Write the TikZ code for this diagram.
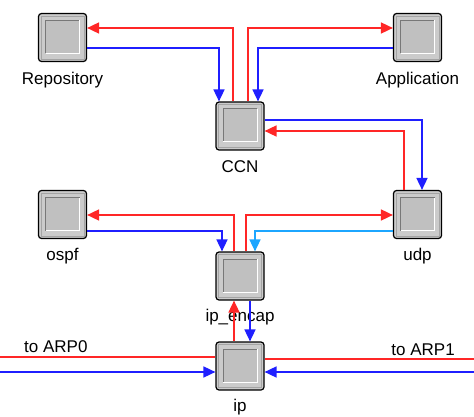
\documentclass[tikz,border=0pt]{standalone}
\usepackage{fontspec}
\setmainfont{Liberation Sans}
\usepackage{tikz}
\usetikzlibrary{arrows.meta}
\definecolor{modfill}{HTML}{CBCBCB}
\definecolor{modrim}{HTML}{A4A4A4}
\definecolor{modcore}{HTML}{C0C0C0}
\definecolor{moddark}{HTML}{787878}
\definecolor{sigred}{HTML}{FF2626}
\definecolor{sigblue}{HTML}{1F1FFF}
\definecolor{sigcyan}{HTML}{1CA6FF}
\tikzstyle{Module}=[rectangle, rounded corners=3pt, minimum size=48pt, inner sep=0pt, draw=black, line width=1.2pt, fill=modfill,
  path picture={
    \draw[sharp corners, line width=0.8pt, modrim] ([shift={(2.5pt,-2.5pt)}]path picture bounding box.north west) rectangle ([shift={(-2.5pt,2.5pt)}]path picture bounding box.south east);
    \fill[sharp corners, modcore] ([shift={(7pt,-7pt)}]path picture bounding box.north west) rectangle ([shift={(-7pt,8pt)}]path picture bounding box.south east);
    \draw[sharp corners, line width=1pt, moddark] ([shift={(7pt,8pt)}]path picture bounding box.south west) |- ([shift={(-7pt,-7pt)}]path picture bounding box.north east);
    \draw[sharp corners, line width=1pt, white] ([shift={(7pt,8pt)}]path picture bounding box.south west) -| ([shift={(-7pt,-7pt)}]path picture bounding box.north east);
  }]
\tikzstyle{Tag}=[anchor=base, inner sep=0pt, font=\fontsize{17}{20}\selectfont]
\tikzstyle{Red}=[draw=sigred, line width=1.7pt]
\tikzstyle{Blue}=[draw=sigblue, line width=1.7pt]
\tikzstyle{Cyan}=[draw=sigcyan, line width=1.7pt]
\tikzstyle{Tip}=[-{Triangle[length=12pt,width=11pt]}]

\begin{document}
\begin{tikzpicture}[x=1pt, y=-1pt]
    \useasboundingbox (0,0) rectangle (474,417);
    \path
    (62.5,37.5) node[Module] (repo) {}
    (417.5,37.5) node[Module] (app) {}
    (240,126) node[Module] (ccn) {}
    (62.5,214.5) node[Module] (ospf) {}
    (417.5,214.5) node[Module] (udp) {}
    (240,276) node[Module] (encap) {}
    (240,366) node[Module] (ip) {}
    coordinate (arpzeroR) at (0,357)
    coordinate (arpzeroB) at (0,372)
    coordinate (arponeR) at (474,359)
    coordinate (arponeB) at (474,372);

    \node[Tag] (repolabel) at ([yshift=-22pt]repo.south) {Repository};
    \node[Tag] (applabel) at ([yshift=-22pt]app.south) {Application};
    \node[Tag] (ccnlabel) at ([yshift=-22pt]ccn.south) {CCN};
    \node[Tag] (ospflabel) at ([yshift=-21pt]ospf.south) {ospf};
    \node[Tag] (udplabel) at ([yshift=-21pt]udp.south) {udp};
    \node[Tag] (encaplabel) at ([yshift=-21pt]encap.south) {ip\_encap};
    \node[Tag] (iplabel) at ([yshift=-21pt]ip.south) {ip};
    \node[Tag, anchor=base west] (arpzero) at (24,352) {to ARP0};
    \node[Tag, anchor=base east] (arpone) at (455,355) {to ARP1};

    % CCN <-> Repository / Application
    \draw[Red, Tip] ([xshift=-7pt]ccn.north) |- ([yshift=9.5pt]repo.east);
    \draw[Blue, Tip] ([yshift=-10.5pt]repo.east) -| ([xshift=-21pt]ccn.north);
    \draw[Red, Tip] ([xshift=8pt]ccn.north) |- ([yshift=9.5pt]app.west);
    \draw[Blue, Tip] ([yshift=-10.5pt]app.west) -| ([xshift=18pt]ccn.north);
    % CCN <-> udp
    \draw[Blue, Tip] ([yshift=6pt]ccn.east) -| ([xshift=4.5pt]udp.north);
    \draw[Red, Tip] ([xshift=-13.5pt]udp.north) |- ([yshift=-5pt]ccn.east);
    % ip_encap <-> ospf / udp
    \draw[Red, Tip] ([xshift=-6pt]encap.north) |- ([yshift=-0.5pt]ospf.east);
    \draw[Blue, Tip] ([yshift=-16.5pt]ospf.east) -| ([xshift=-18pt]encap.north);
    \draw[Red, Tip] ([xshift=6pt]encap.north) |- ([yshift=-0.5pt]udp.west);
    \draw[Cyan, Tip] ([yshift=-16.5pt]udp.west) -| ([xshift=15pt]encap.north);
    % ip <-> ip_encap
    \draw[Red, Tip] ([xshift=-6pt]ip.north) -- ([xshift=-6pt]encap.south);
    \draw[Blue, Tip] ([xshift=10pt]encap.south) -- ([xshift=10pt]ip.north);
    % ARP links
    \draw[Red] ([yshift=9pt]ip.west) -- (arpzeroR);
    \draw[Blue, Tip] (arpzeroB) -- ([yshift=-6pt]ip.west);
    \draw[Red] ([yshift=7pt]ip.east) -- (arponeR);
    \draw[Blue, Tip] (arponeB) -- ([yshift=-6pt]ip.east);
\end{tikzpicture}
\end{document}
